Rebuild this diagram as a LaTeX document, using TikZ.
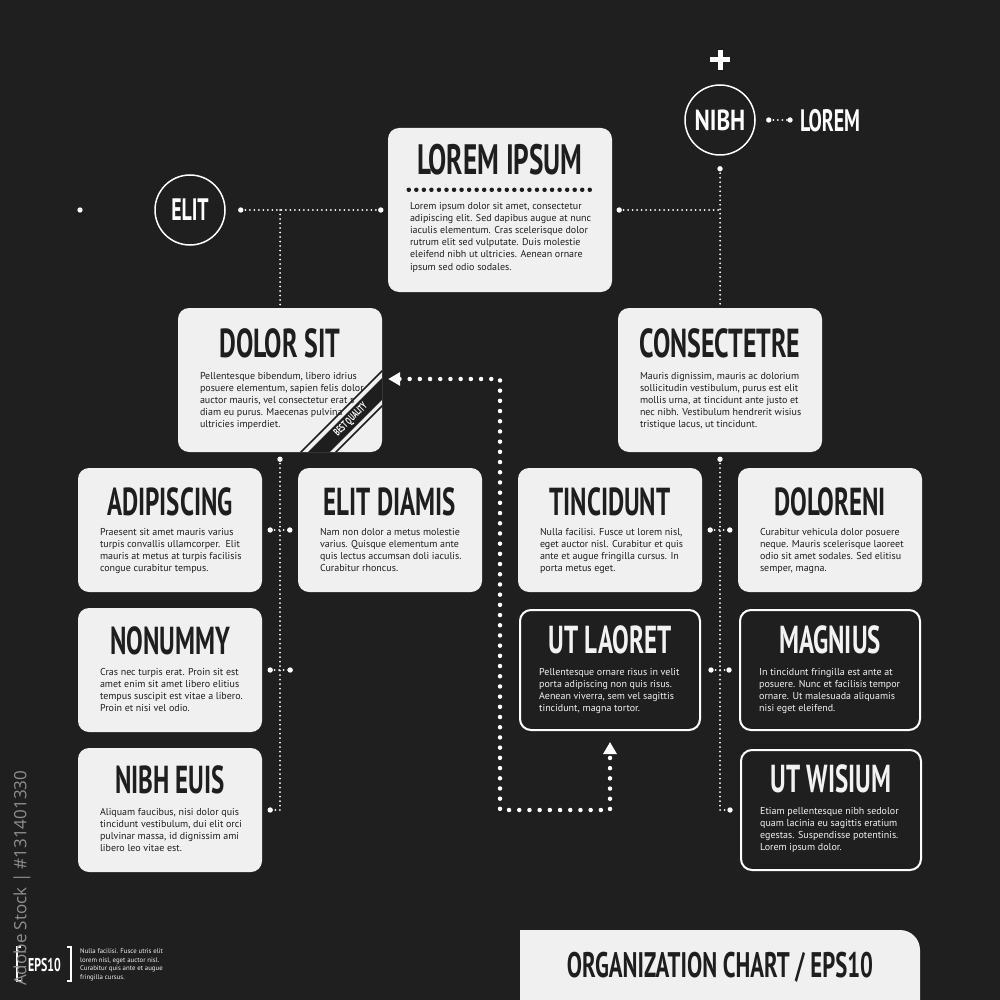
\documentclass[tikz,border=0pt]{standalone}
\usepackage{fontspec}
\setmainfont{PT Sans}
\newfontfamily\ttlfont[FakeStretch=0.64]{PT Sans}
\newfontfamily\ttlwide[FakeStretch=0.8]{PT Sans}
\newfontfamily\wmfont{Open Sans}
\usetikzlibrary{arrows.meta,calc}
\definecolor{bg}{HTML}{1F1F1F}
\definecolor{boxfill}{HTML}{F0F0F0}
\definecolor{ink}{HTML}{1E1E1E}
\definecolor{wm}{HTML}{8E8E8E}
\definecolor{lighttxt}{HTML}{F2F2F2}
\newcommand\dotat[1]{\fill[white] (#1) circle (2.7pt);}
\tikzset{
  card/.style={fill=boxfill, draw=none, rounded corners=11pt, inner sep=0pt},
  darkcard/.style={fill=bg, draw=white, line width=2pt, rounded corners=11pt, inner sep=0pt,
    minimum width=180pt, minimum height=120pt},
  rowcard/.style={card, minimum width=184pt, minimum height=124pt},
  bigcard/.style={card, minimum width=204pt, minimum height=144pt},
  ttl/.style={inner sep=0pt, text depth=0pt, text=ink, font=\ttlfont\bfseries\fontsize{39}{39}\selectfont},
  ttlbig/.style={ttl, font=\ttlfont\bfseries\fontsize{40.5}{40.5}\selectfont},
  ttlhuge/.style={ttl, font=\ttlfont\bfseries\fontsize{42.5}{42.5}\selectfont},
  ttlsmall/.style={ttl, text=white, font=\ttlfont\bfseries\fontsize{30}{30}\selectfont},
  body/.style={inner sep=0pt, align=left, anchor=north west, text=ink, font=\fontsize{10}{12.2}\selectfont},
  circ/.style={circle, draw=white, line width=1.5pt, fill=bg, minimum size=70pt, inner sep=0pt},
  link/.style={draw=white, line width=2pt, line cap=round, dash pattern=on 0pt off 4.5pt},
  bigdots/.style={draw=white, line width=4.5pt, line cap=round, dash pattern=on 0pt off 10.2pt},
}
\begin{document}
\begin{tikzpicture}[x=1pt,y=-1pt]
\useasboundingbox (0,0) rectangle (1000,1000);
\fill[bg] (0,0) rectangle (1000,1000);

% ---------- cards ----------
\node[card, minimum width=224pt, minimum height=164pt] (lorem) at (500,210) {};
\node[bigcard] (dolor) at (280,380) {};
\node[bigcard] (consec) at (720,380) {};
\node[rowcard] (adip) at (170,530) {};
\node[rowcard] (elitd) at (390,530) {};
\node[rowcard] (tinc) at (610,530) {};
\node[rowcard] (dolr) at (830,530) {};
\node[rowcard] (nonum) at (170,670) {};
\node[rowcard] (nibhe) at (170,810) {};
\node[darkcard] (utla) at (610,670) {};
\node[darkcard] (magn) at (830,670) {};
\node[darkcard] (utwi) at (831,810) {};

% ---------- circles ----------
\node[circ] (elit) at (190,210) {};
\node[ttlsmall, font=\ttlfont\bfseries\fontsize{31}{31}\selectfont] at (elit.center) {ELIT};
\node[circ] (nibh) at (720,120) {};
\node[ttlsmall, font=\ttlwide\bfseries\fontsize{29}{29}\selectfont] at (nibh.center) {NIBH};
\node[ttlsmall, anchor=west, font=\ttlfont\bfseries\fontsize{31}{31}\selectfont] (loremlbl) at (800,120) {LOREM};
\fill[white] (710,57.5) rectangle (730,62.5);
\fill[white] (717.5,50) rectangle (722.5,70);
\coordinate (lone) at (80,210);
\dotat{lone}

% ---------- titles and texts ----------
\node[ttlhuge] at ($(lorem.north)+(0,32)$) {LOREM IPSUM};
\draw[ink, line width=4.5pt, line cap=round, dash pattern=on 0pt off 7.54pt]
  ($(lorem.north west)+(21,62)$) -- ($(lorem.north east)+(-22,62)$);
\node[body] at ($(lorem.north west)+(22,74)$) {Lorem ipsum dolor sit amet, consectetur\\adipiscing elit. Sed dapibus augue at nunc\\iaculis elementum. Cras scelerisque dolor\\rutrum elit sed vulputate. Duis molestie\\eleifend nibh ut ultricies. Aenean ornare\\ipsum sed odio sodales.};

\node[ttlbig] at ($(dolor.north)+(0,35)$) {DOLOR SIT};
\node[body] at ($(dolor.north west)+(22,64)$) {Pellentesque bibendum, libero idrius\\posuere elementum, sapien felis dolor\\auctor mauris, vel consectetur erat s\\diam eu purus. Maecenas pulvina\\ultricies imperdiet.};
\begin{scope}
  \clip[rounded corners=11pt] (dolor.south west) rectangle (dolor.north east);
  \draw[ink, line width=1.5pt] (293,460) -- (393,360);
  \draw[ink, line width=15.5pt] (311,460) -- (411,360);
  \draw[ink, line width=1.5pt] (328,460) -- (428,360);
  \node[rotate=45, inner sep=0pt, text=white, font=\ttlfont\bfseries\fontsize{10.5}{10.5}\selectfont] at (351,420) {BEST QUALITY};
\end{scope}

\node[ttlbig] at ($(consec.north)+(0,35)$) {CONSECTETRE};
\node[body] at ($(consec.north west)+(22,64)$) {Mauris dignissim, mauris ac dolorium\\sollicitudin vestibulum, purus est elit\\mollis urna, at tincidunt ante justo et\\nec nibh. Vestibulum hendrerit wisius\\tristique lacus, ut tincidunt.};

\node[ttl] at ($(adip.north)+(0,34)$) {ADIPISCING};
\node[body] at ($(adip.north west)+(22,60)$) {Praesent sit amet mauris varius\\turpis convallis ullamcorper.\ \ Elit\\mauris at metus at turpis facilisis\\congue curabitur tempus.};

\node[ttl] at ($(elitd.north)+(0,34)$) {ELIT DIAMIS};
\node[body] at ($(elitd.north west)+(22,60)$) {Nam non dolor a metus molestie\\varius. Quisque elementum ante\\quis lectus accumsan doli iaculis.\\Curabitur rhoncus.};

\node[ttl] at ($(tinc.north)+(0,34)$) {TINCIDUNT};
\node[body] at ($(tinc.north west)+(22,60)$) {Nulla facilisi. Fusce ut lorem nisl,\\eget auctor nisl. Curabitur et quis\\ante et augue fringilla cursus. In\\porta metus eget.};

\node[ttl] at ($(dolr.north)+(0,34)$) {DOLORENI};
\node[body] at ($(dolr.north west)+(22,60)$) {Curabitur vehicula dolor posuere\\neque. Mauris scelerisque laoreet\\odio sit amet sodales. Sed elitisu\\semper, magna.};

\node[ttl] at ($(nonum.north)+(0,33)$) {NONUMMY};
\node[body] at ($(nonum.north west)+(22,60)$) {Cras nec turpis erat. Proin sit est\\amet enim sit amet libero elitius\\tempus suscipit est vitae a libero.\\Proin et nisi vel odio.};

\node[ttl] at ($(nibhe.north)+(0,32)$) {NIBH EUIS};
\node[body] at ($(nibhe.north west)+(22,60)$) {Aliquam faucibus, nisi dolor quis\\tincidunt vestibulum, dui elit orci\\pulvinar massa, id dignissim ami\\libero leo vitae est.};

\node[ttl, text=lighttxt] at ($(utla.north)+(0,31)$) {UT LAORET};
\node[body, text=lighttxt] at ($(utla.north west)+(20,59)$) {Pellentesque ornare risus in velit\\porta adipiscing non quis risus.\\Aenean viverra, sem vel sagittis\\tincidunt, magna tortor.};

\node[ttl, text=lighttxt] at ($(magn.north)+(0,31)$) {MAGNIUS};
\node[body, text=lighttxt] at ($(magn.north west)+(20,59)$) {In tincidunt fringilla est ante at\\posuere. Nunc et facilisis tempor\\ornare. Ut malesuada aliquamis\\nisi eget eleifend.};

\node[ttl, text=lighttxt] at ($(utwi.north)+(0,30)$) {UT WISIUM};
\node[body, text=lighttxt] at ($(utwi.north west)+(20,58)$) {Etiam pellentesque nibh sedolor\\quam lacinia eu sagittis eratium\\egestas. Suspendisse potentinis.\\Lorem ipsum dolor.};

% ---------- connectors ----------
\coordinate (e1) at ($(elit.east)+(15,0)$);
\coordinate (e2) at ($(lorem.west)+(-7,0)$);
\draw[link] (e1) -- (e2);
\draw[link] (dolor.north |- e1) -- (dolor.north);
\dotat{e1}\dotat{e2}

\coordinate (r1) at ($(lorem.east)+(7,0)$);
\coordinate (n1) at ($(nibh.south)+(0,13)$);
\draw[link] (r1) -- (consec.north |- r1);
\draw[link] (n1) -- (consec.north);
\dotat{r1}\dotat{n1}

\coordinate (n2) at ($(nibh.east)+(13,0)$);
\coordinate (n3) at ($(loremlbl.west)+(-10,0)$);
\draw[link] (n2) -- (n3);
\dotat{n2}\dotat{n3}

% left trunk
\coordinate (d1) at ($(dolor.south)+(0,7)$);
\coordinate (d2) at ($(nibhe.east)+(8,0)$);
\draw[link] (d1) -- (dolor.south |- nibhe.east) -- (d2);
\dotat{d1}\dotat{d2}
\coordinate (a1) at ($(adip.east)+(8,0)$);
\coordinate (a2) at ($(elitd.west)+(-8,0)$);
\draw[link] (a1) -- (a2);
\dotat{a1}\dotat{a2}
\coordinate (b1) at ($(nonum.east)+(8,0)$);
\coordinate (b2) at ($(nonum.east)+(28,0)$);
\draw[link] (b1) -- (b2);
\dotat{b1}\dotat{b2}

% right trunk
\coordinate (c1) at ($(consec.south)+(0,7)$);
\coordinate (c2) at ($(utwi.west)+(-10,0)$);
\draw[link] (c1) -- (consec.south |- utwi.west) -- (c2);
\dotat{c1}\dotat{c2}
\coordinate (t1) at ($(tinc.east)+(8,0)$);
\coordinate (t2) at ($(dolr.west)+(-8,0)$);
\draw[link] (t1) -- (t2);
\dotat{t1}\dotat{t2}
\coordinate (u1) at ($(utla.east)+(10,0)$);
\coordinate (u2) at ($(magn.west)+(-10,0)$);
\draw[link] (u1) -- (u2);
\dotat{u1}\dotat{u2}

% feedback arrow
\coordinate (fb) at (500,810);
\draw[bigdots, {Triangle[width=13pt,length=12pt]}-{Triangle[width=13pt,length=12pt]}]
  ($(dolor.east)+(6,-1)$) -| (fb) -| ($(utla.south)+(0,11)$);

% ---------- bottom ----------
\fill[boxfill, rounded corners=20pt] (520,1040) rectangle (920,930);
\fill[boxfill] (520,930) rectangle (560,980);
\node[ttl, font=\ttlfont\bfseries\fontsize{35.5}{35.5}\selectfont] (org) at (720,965) {ORGANIZATION CHART / EPS10};

\node[ttl, text=white, font=\ttlfont\bfseries\fontsize{18.5}{18.5}\selectfont] (eps) at (44.5,964.5) {EPS10};
\draw[white, line width=1.8pt] (21,947) -- (17,947) -- (17,981) -- (21,981);
\draw[white, line width=1.8pt] (67,947) -- (71,947) -- (71,981) -- (67,981);
\node[inner sep=0pt, anchor=north west, align=left, text=lighttxt, font=\fontsize{6.8}{8.6}\selectfont] at (80,948.5) {Nulla facilisi. Fusce utris elit\\lorem nisl, eget auctor nisl.\\Curabitur quis ante et augue\\fringilla cursus.};

\node[rotate=90, anchor=west, inner sep=0pt, text=wm, font=\wmfont\fontsize{17}{17}\selectfont] at (22,986) {Adobe Stock | \#131401330};
\end{tikzpicture}
\end{document}
